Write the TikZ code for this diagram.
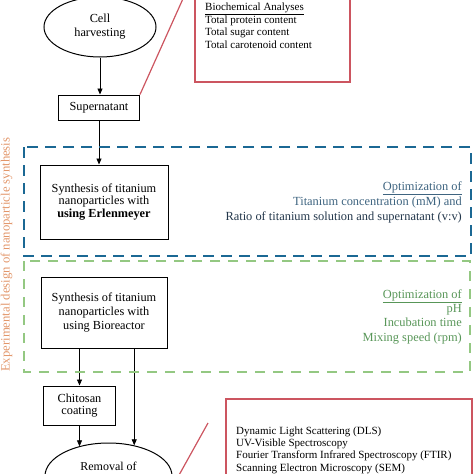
\documentclass[tikz,border=0pt]{standalone}
\usepackage{fontspec}
\setmainfont{Liberation Serif}
\usetikzlibrary{shapes.geometric, arrows.meta}

\definecolor{optblue}{RGB}{27,104,148}
\definecolor{optgreen}{RGB}{148,200,130}
\definecolor{txtblue}{RGB}{62,100,128}
\definecolor{txtnavy}{RGB}{35,55,75}
\definecolor{txtgreen}{RGB}{88,150,88}
\definecolor{calloutred}{RGB}{204,85,96}
\definecolor{exporange}{RGB}{226,150,106}

\tikzset{
	flowbox/.style={draw, line width=1pt, align=center, inner sep=0pt,
		font=\fontsize{12.3}{13.5}\selectfont},
	flowell/.style={ellipse, draw, line width=1pt, align=center, inner sep=0pt,
		font=\fontsize{12.3}{14}\selectfont},
	flowarrow/.style={-{Triangle[length=6pt,width=5pt]}, line width=0.8pt},
	callout/.style={draw=calloutred, line width=1.2pt},
	listtext/.style={align=left, inner sep=0pt, anchor=north west}
}

\begin{document}
\begin{tikzpicture}[x=1pt, y=-1pt]
		\useasboundingbox (0,0) rectangle (474,474);
		\clip (0,0) rectangle (474,474);

		% main flow
		\node[flowell, minimum width=112pt, minimum height=60pt] at (100,27) (cell) {Cell\\harvesting};
		\node[flowbox, minimum width=81pt, minimum height=25pt] at (99,107.5) (super) {Supernatant};
		\node[flowbox, minimum width=128pt, minimum height=74pt, font=\fontsize{12.3}{12.8}\selectfont] at (104,202) (syn1)
			{Synthesis of titanium\\nanoparticles with\\\textbf{using Erlenmeyer}};
		\node[flowbox, minimum width=126pt, minimum height=71pt, font=\fontsize{12.3}{14}\selectfont] at (104,312.5) (syn2)
			{Synthesis of titanium\\nanoparticles with\\using Bioreactor};
		\node[flowbox, minimum width=72pt, minimum height=39pt, font=\fontsize{12.3}{12.7}\selectfont] at (79.5,405.5) (chit)
			{Chitosan\\coating};
		\node[flowell, minimum width=127pt, minimum height=66pt] at (108.5,476) (removal) {};
		\node[anchor=base, inner sep=0pt, font=\fontsize{12}{13}\selectfont] at (108.5,470) (remlabel) {Removal of};

		\path[flowarrow] (cell) edge (cell |- super.north);
		\path[flowarrow] (super.south) edge (super.south |- syn1.north);
		\path[flowarrow] (syn2.south -| chit.north) edge (chit.north);
		\path[flowarrow] (syn2.south -| removal.50) edge (removal.50);
		\path[flowarrow] (chit.south) edge (chit.south |- removal.135);

		% optimization frames
		\draw[optblue, line width=2.8pt, dash pattern=on 11pt off 7pt] (24,147) rectangle (471,256);
		\draw[optgreen, line width=2pt, dash pattern=on 10pt off 8pt] (24,261) rectangle (470,372);

		\node[align=right, inner sep=0pt, anchor=north east, font=\fontsize{12.4}{14.7}\selectfont] at (462,181.7) (optone)
			{\textcolor{txtblue}{\underline{Optimization of}}\\
			\textcolor{txtblue}{Titanium concentration (mM) and}\\
			\textcolor{txtnavy}{Ratio of titanium solution and supernatant (v:v)}};
		\node[align=right, inner sep=0pt, anchor=north east, text=txtgreen, font=\fontsize{12.4}{14.3}\selectfont] at (462,289.2) (opttwo)
			{\underline{Optimization of}\\pH\\Incubation time\\Mixing speed (rpm)};

		\node[rotate=90, anchor=base west, inner sep=0pt, text=exporange, font=\fontsize{12.7}{14}\selectfont] at (9.5,372) (expdesign)
			{Experimental design of nanoparticle synthesis};

		% analyses
		\draw[callout] (195,-20) rectangle (350,82);
		\node[listtext, font=\fontsize{11}{12.7}\selectfont] at (205,2.5) (biochem)
			{\underline{Biochemical Analyses}\\Total protein content\\Total sugar content\\Total carotenoid content};
		\coordinate (biotip) at (190.5,-18);
		\draw[callout] (super.north east) -- (biotip);

		\draw[callout] (226,399) rectangle (472,490);
		\node[listtext, font=\fontsize{11}{12.3}\selectfont] at (236,426.5) (charact)
			{Dynamic Light Scattering (DLS)\\UV-Visible Spectroscopy\\Fourier Transform Infrared Spectroscopy (FTIR)\\Scanning Electron Microscopy (SEM)};
		\coordinate (remtip) at (208,423);
		\draw[callout] ([xshift=6pt]removal.east) -- (remtip);
\end{tikzpicture}
\end{document}
